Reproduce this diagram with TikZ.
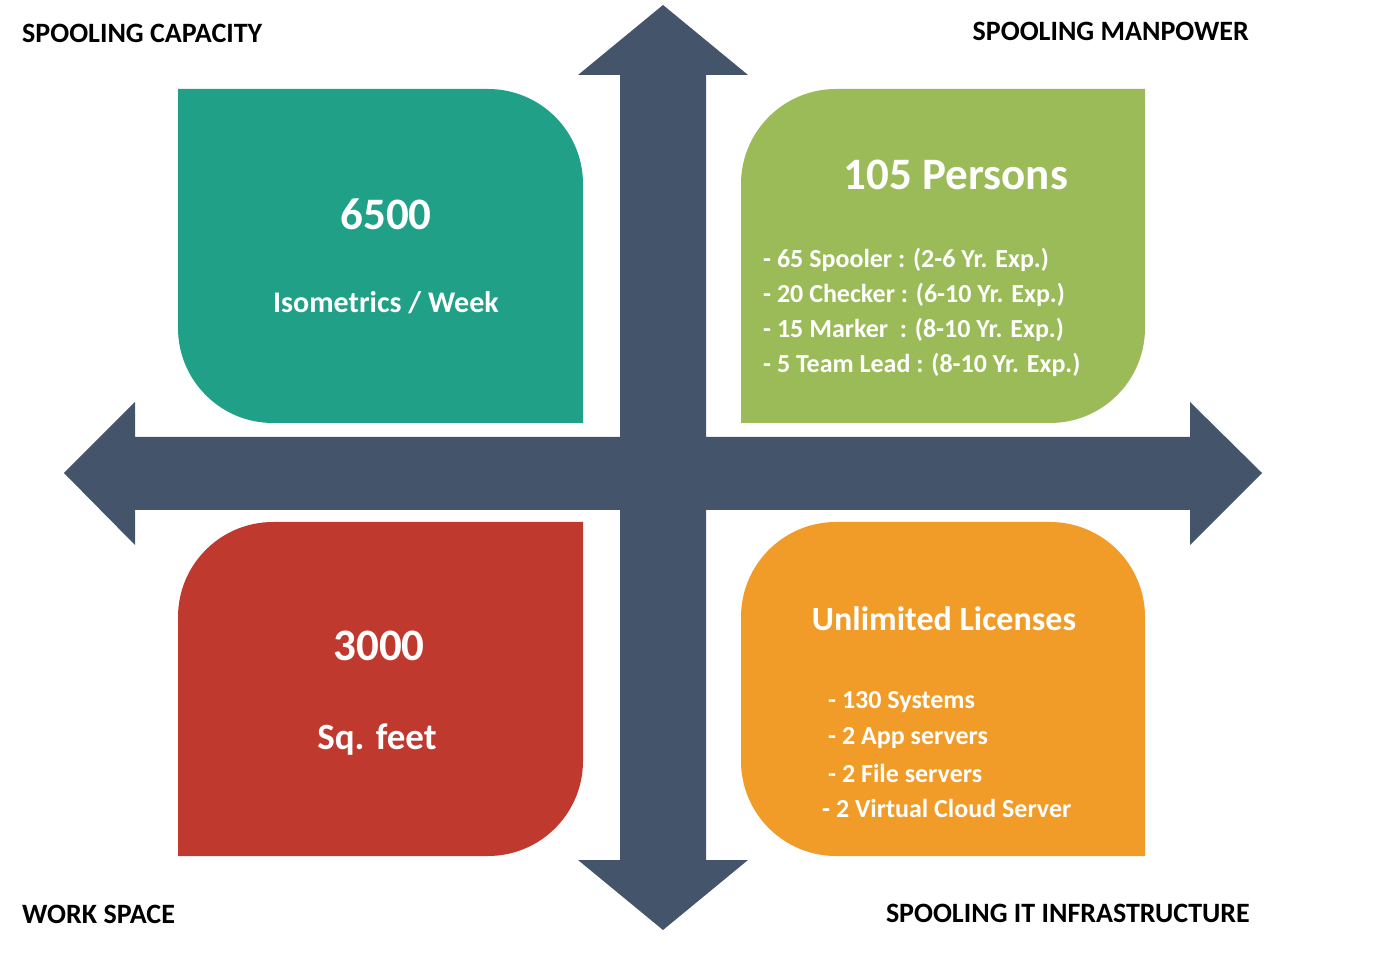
\documentclass[tikz,border=0pt]{standalone}
\usepackage{fontspec}
\setmainfont{Carlito}
\definecolor{cross}{HTML}{44546A}
\definecolor{cg}{HTML}{20A086}
\definecolor{cl}{HTML}{9BBB59}
\definecolor{cr}{HTML}{C0392F}
\definecolor{co}{HTML}{F19C29}
\tikzset{
 ttl/.style={font=\fontsize{28}{30}\selectfont\bfseries, text=black, inner sep=0pt},
 big/.style={font=\fontsize{45}{48}\selectfont\bfseries, text=white, inner sep=0pt},
 mid/.style={font=\fontsize{30}{32}\selectfont\bfseries, text=white, inner sep=0pt},
 lst/.style={font=\fontsize{26}{28}\selectfont\bfseries, text=white, inner sep=0pt, anchor=west},
}
\begin{document}
\begin{tikzpicture}[x=1pt,y=1pt]
\useasboundingbox (0,0) rectangle (1381,954);
\fill[cross] (663,949) -- (748,879) -- (706,879) -- (706,517) -- (1190,517) -- (1190,552) -- (1262,481) -- (1190,409) -- (1190,444) -- (706,444) -- (706,94) -- (748,94) -- (663,24) -- (578,94) -- (620,94) -- (620,444) -- (135,444) -- (135,409) -- (64,481) -- (135,552) -- (135,517) -- (620,517) -- (620,879) -- (578,879) -- cycle;
% boxes
\fill[cg] (178,865) -- (488,865) arc[start angle=90,end angle=0,radius=95] -- (583,531) -- (273,531) arc[start angle=270,end angle=180,radius=95] -- cycle;
\fill[cl] (836,865) -- (1145,865) -- (1145,626) arc[start angle=0,end angle=-90,radius=95] -- (741,531) -- (741,770) arc[start angle=180,end angle=90,radius=95] -- cycle;
\fill[cr] (273,432) -- (583,432) -- (583,193) arc[start angle=0,end angle=-90,radius=95] -- (178,98) -- (178,337) arc[start angle=180,end angle=90,radius=95] -- cycle;
\fill[co] (836,432) -- (1050,432) arc[start angle=90,end angle=0,radius=95] -- (1145,98) -- (836,98) arc[start angle=270,end angle=180,radius=95] -- (741,337) arc[start angle=180,end angle=90,radius=95] -- cycle;
% titles
\node[ttl,anchor=west] (t1) at (22,921) {SPOOLING CAPACITY};
\node[ttl,anchor=east] (t2) at (1249,923) {SPOOLING MANPOWER};
\node[ttl,anchor=west] (t3) at (22,40) {WORK SPACE};
\node[ttl,anchor=east] (t4) at (1250,41) {SPOOLING IT INFRASTRUCTURE};
% TL
\node[big] (a1) at (386,740) {6500};
\node[mid] (a2) at (386,651) {Isometrics / Week};
% TR
\node[big] (b1) at (956,779) {105 Persons};
\node[lst] (b2) at (763,694) {- 65 Spooler : (2-6 Yr. Exp.)};
\node[lst] (b3) at (763,659) {- 20 Checker : (6-10 Yr. Exp.)};
\node[lst] (b4) at (763,624) {- 15 Marker\ \ : (8-10 Yr. Exp.)};
\node[lst] (b5) at (763,589) {- 5 Team Lead : (8-10 Yr. Exp.)};
% BL
\node[big] (c1) at (379,308) {3000};
\node[big,font=\fontsize{37}{40}\selectfont\bfseries] (c2) at (377,214) {Sq. feet};
% BR
\node[mid,font=\fontsize{34}{36}\selectfont\bfseries] (d1) at (944,335) {Unlimited Licenses};
\node[lst] (d2) at (828,252) {- 130 Systems};
\node[lst] (d3) at (828,216) {- 2 App servers};
\node[lst] (d4) at (828,181) {- 2 File servers};
\node[lst] (d5) at (822,146) {- 2 Virtual Cloud Server};
\end{tikzpicture}
\end{document}
